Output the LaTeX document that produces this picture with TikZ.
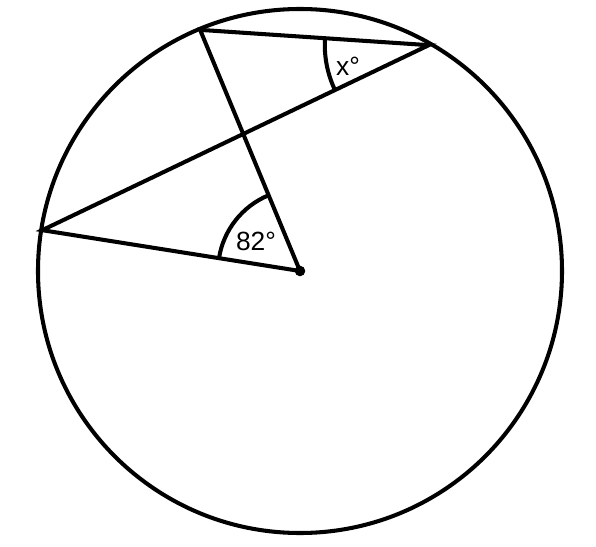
\documentclass[tikz,border=0pt]{standalone}
\usepackage{fontspec}
\setmainfont{Liberation Sans}
\usetikzlibrary{angles}
\tikzset{
		every path/.style={line width=2.3pt},
		angle mark/.style={draw,line width=2.3pt},
		angle label/.style={font=\fontsize{15}{17}\selectfont,inner sep=0pt}
	}

\begin{document}
\begin{tikzpicture}
				\useasboundingbox (-6,-5.52) rectangle (5.92,5.42);
				\coordinate (O) at (0,0);
				\coordinate (A) at (112.5:5.22);
				\coordinate (B) at (60.3:5.2);
				\coordinate (C) at (171:5.22);

				\draw (O) circle (5.24);
				\draw (A) -- (B) -- (C) -- (O) -- cycle;
				\fill (O) circle (3pt);

				\pic[angle mark, angle radius=1.64cm] {angle = A--O--C};
				\pic[angle mark, angle radius=2.08cm] {angle = A--B--C};

				\node[angle label] (l82) at (-0.88,0.6) {82°};
				\node[angle label] (lx)  at (0.96,4.1)  {x°};
			\end{tikzpicture}
\end{document}
